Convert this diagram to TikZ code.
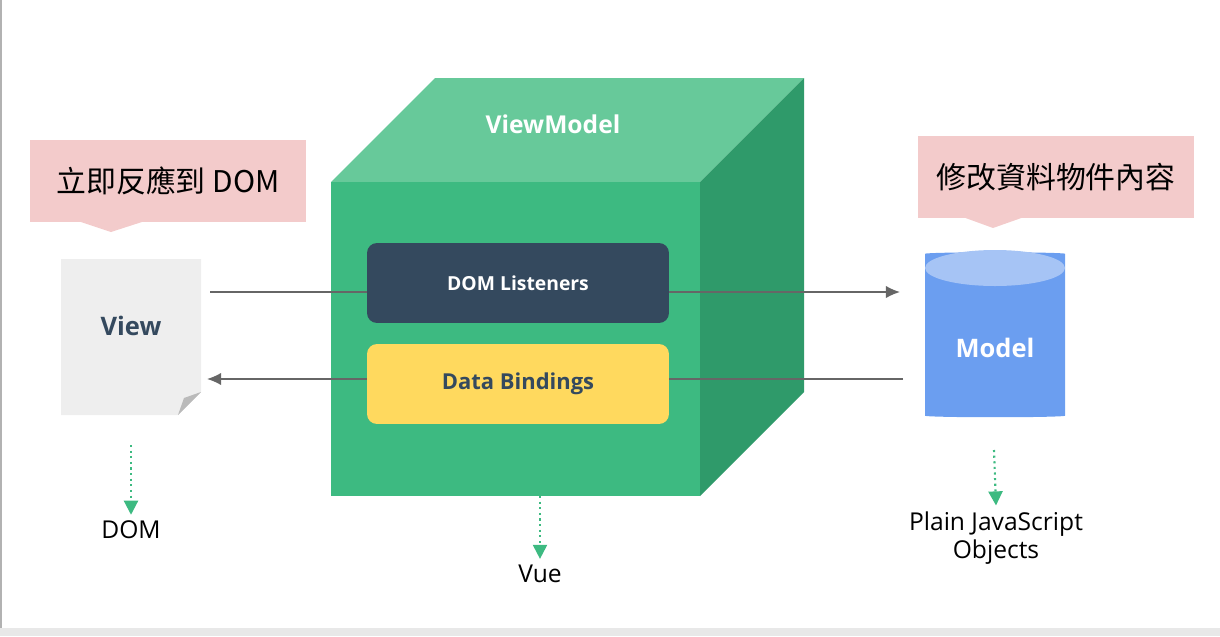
\documentclass[tikz,border=0pt]{standalone}
\usepackage{fontspec}
\setmainfont{Open Sans}
\newfontfamily\cjk{Noto Sans CJK TC}
\usetikzlibrary{shapes.geometric, arrows.meta, positioning}
\definecolor{vgreen}{HTML}{3DBA81}
\definecolor{vlgreen}{HTML}{67C99A}
\definecolor{vdgreen}{HTML}{2F9A6A}
\definecolor{vnavy}{HTML}{34495E}
\definecolor{vyellow}{HTML}{FFD95E}
\definecolor{vpink}{HTML}{F3CBCB}
\definecolor{vpaper}{HTML}{EEEEEE}
\definecolor{vblue}{HTML}{6B9EF0}
\definecolor{vlblue}{HTML}{A6C4F5}
\definecolor{vgray}{HTML}{666666}
\tikzstyle{callout} = [rectangle, minimum width=5.52cm, minimum height=1.64cm, fill=vpink, font=\cjk\fontsize{17}{20}\selectfont, inner sep=0pt]
\tikzstyle{inner} = [rectangle, rounded corners=0.2cm, minimum width=6.04cm, minimum height=1.6cm, font=\bfseries\fontsize{11}{14}\selectfont]
\tikzstyle{caption} = [font=\fontsize{14}{17}\selectfont, align=center]
\tikzstyle{flow} = [thick, vgray, -{Latex[length=8pt,width=7pt]}]
\tikzstyle{down} = [very thick, vgreen, dotted, -{Triangle[length=8pt,width=8pt,fill=vgreen]}]
\begin{document}
\begin{tikzpicture}[x=0.02cm,y=-0.02cm]
  \useasboundingbox (0,0) rectangle (1220,636);
  \fill[vgray!15] (0,628) rectangle (1220,636);
  \fill[vgray!50] (0,0) rectangle (2,628);
  % cube
  \fill[vlgreen] (331,182) -- (435,78) -- (804,78) -- (700,182) -- cycle;
  \fill[vdgreen] (700,182) -- (804,78) -- (804,392) -- (700,496) -- cycle;
  \fill[vgreen] (331,182) rectangle (700,496);
  \node (vm) [text=white, font=\bfseries\fontsize{14}{17}\selectfont] at (553,124) {ViewModel};
  % view document
  \fill[vpaper] (61,259) -- (201,259) -- (201,392) -- (178,415) -- (61,415) -- cycle;
  \fill[vgray!45] (201,392) -- (178,415) -- (184,398) -- cycle;
  \node (view) [minimum width=2.8cm, minimum height=3.12cm] at (131,337) {};
  \node (viewtxt) [text=vnavy, font=\bfseries\fontsize{14.5}{18}\selectfont] at (131,326) {View};
  % model cylinder
  \node (model) [cylinder, shape border rotate=90, aspect=0.26, minimum width=2.8cm, minimum height=3.3cm, fill=vblue, draw=none] at (995,336) {};
  \fill[vlblue] (995,268) ellipse [x radius=70, y radius=18];
  \node (modeltxt) [text=white, font=\bfseries\fontsize{14.5}{18}\selectfont] at (995,348) {Model};
  % connectors
  \coordinate (vtop) at (210,292);
  \coordinate (mtop) at (900,292);
  \coordinate (vbot) at (207,379);
  \coordinate (mbot) at (903,379);
  \draw [flow] (vtop) -- (mtop);
  \draw [flow] (mbot) -- (vbot);
  \node (listen) [inner, fill=vnavy, text=white] at (518,283) {DOM Listeners};
  \node (bind) [inner, fill=vyellow, text=vnavy, font=\bfseries\fontsize{12.5}{16}\selectfont] at (518,384) {Data Bindings};
  % callouts
  \node (cl) [callout] at (168,181) {立即反應到 DOM};
  \fill[vpink] (78,221) -- (145,221) -- (111,232) -- cycle;
  \node (cr) [callout] at (1056,177) {修改資料物件內容};
  \fill[vpink] (960,216) -- (1027,216) -- (993,228) -- cycle;
  % captions
  \node (dom) [caption] at (131,530) {DOM};
  \node (vue) [caption] at (540,574) {Vue};
  \node (pjo) [caption, font=\fontsize{14}{16}\selectfont] at (996,538) {Plain JavaScript\\Objects};
  \coordinate (d1) at (131,445);
  \coordinate (d2) at (540,496);
  \coordinate (d3) at (994,450);
  \draw [down] (d1) -- (dom.north);
  \draw [down] (d2) -- (vue.north);
  \draw [down] (d3) -- (pjo.north);
\end{tikzpicture}
\end{document}
